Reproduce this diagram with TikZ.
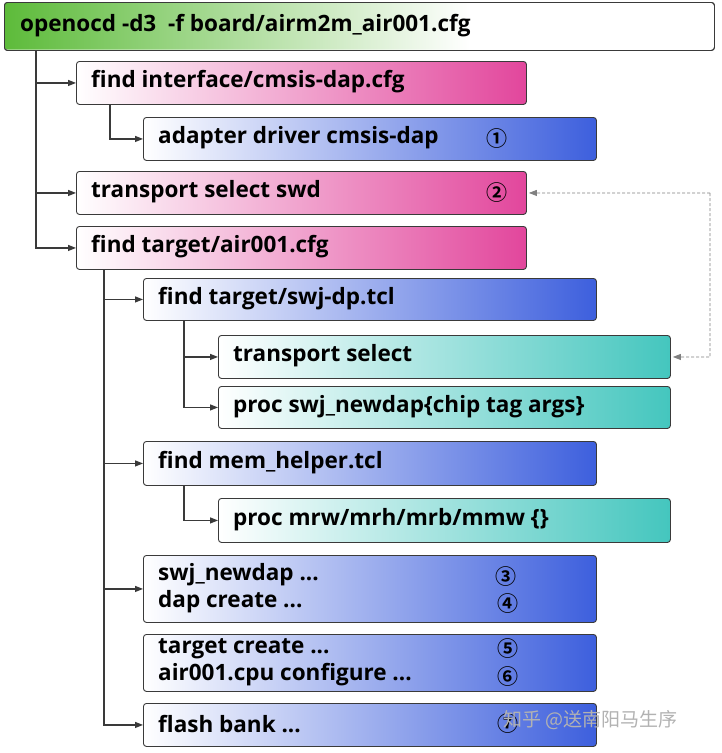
\documentclass[tikz,border=0pt]{standalone}
\usepackage{fontspec}
\setmainfont{Open Sans}
\newfontfamily\cjk{Noto Sans CJK SC}
\newfontfamily\circf{Noto Sans CJK SC Bold}
\usetikzlibrary{arrows.meta}
\definecolor{pinkc}{HTML}{E2469C}
\definecolor{bluec}{HTML}{3D5FDD}
\definecolor{tealc}{HTML}{44C6BE}
\definecolor{greenc}{HTML}{5DBB3A}
\definecolor{edge}{HTML}{3A3A3A}
\tikzset{
  box/.style={draw=edge,line width=0.9pt,rounded corners=3pt,inner sep=0pt,anchor=north west},
  pinkbox/.style={box,left color=white,right color=pinkc},
  bluebox/.style={box,left color=white,right color=bluec},
  tealbox/.style={box,left color=white,right color=tealc},
  lbl/.style={anchor=west,inner sep=0pt,font=\bfseries\fontsize{22.5}{27}\selectfont,align=left,text=black},
  num/.style={inner sep=0pt,font=\circf\fontsize{21}{22}\selectfont},
  conn/.style={draw=edge,line width=1.1pt,-{Triangle[length=8pt,width=6pt]}},
  dconn/.style={draw=gray,line width=0.8pt,dashed,dash pattern=on 3pt off 2pt,-{Triangle[length=8pt,width=6pt]}},
}
\newcommand\bx[7]{\node[#6,minimum width={(#4-#2)*1pt},minimum height={(#5-#3)*1pt}] (#1) at (#2,#3) {};
  \node[lbl] (#1t) at ([xshift=15pt,yshift=1pt]#1.west) {#7};}
\begin{document}
\begin{tikzpicture}[x=1pt,y=-1pt]
\useasboundingbox[fill=white] (0,0) rectangle (721,753);
% root
\node[box,fill=white,minimum width=710pt,minimum height=48pt] (root) at (4,2) {};
\shade[left color=greenc,right color=white,rounded corners=3pt] (4.5,2.5) rectangle (470,49.5);
\node[box,minimum width=710pt,minimum height=48pt] (rootb) at (4,2) {};
\node[lbl] (roott) at ([xshift=16pt,yshift=1pt]root.west) {openocd -d3\ \ -f board/airm2m\_air001.cfg};
\bx{b1}{76}{61}{526}{104}{pinkbox}{find interface/cmsis-dap.cfg}
\bx{b2}{143}{117}{596}{160}{bluebox}{adapter driver cmsis-dap}
\bx{b3}{76}{171}{526}{214}{pinkbox}{transport select swd}
\bx{b4}{76}{226}{526}{269}{pinkbox}{find target/air001.cfg}
\bx{b5}{143}{278}{596}{320}{bluebox}{find target/swj-dp.tcl}
\bx{b6}{218}{335}{670}{378}{tealbox}{transport select}
\bx{b7}{218}{386}{670}{428}{tealbox}{proc swj\_newdap\{chip tag args\}}
\bx{b8}{143}{441}{596}{485}{bluebox}{find mem\_helper.tcl}
\bx{b9}{218}{498}{670}{542}{tealbox}{proc mrw/mrh/mrb/mmw \{\}}
\bx{b10}{143}{555}{596}{622}{bluebox}{swj\_newdap ...\\dap create ...}
\bx{b11}{143}{634}{596}{691}{bluebox}{target create ...\\air001.cpu configure ...}
\bx{b12}{143}{703}{596}{746}{bluebox}{flash bank ...}
\node[num] (n1) at (497,139) {①};
\node[num] (n2) at (497,193) {②};
\node[num] (n3) at (506,577) {③};
\node[num] (n4) at (508,604) {④};
\node[num] (n5) at (508,649) {⑤};
\node[num] (n6) at (508,677) {⑥};
\node[num] (n7) at (508,724) {⑦};
\node[anchor=west,inner sep=0pt,text=gray!60,font=\cjk\fontsize{19}{22}\selectfont] (wm) at (503,720) {知乎 @送南阳马生序};
% connectors
\coordinate (r0) at (36,50);
\draw[conn] (r0) |- (b1.west);
\draw[conn] (r0) |- (b3.west);
\draw[conn] (r0) |- (b4.west);
\coordinate (a0) at (110,104);
\draw[conn] (a0) |- (b2.west);
\coordinate (t0) at (104,269);
\draw[conn] (t0) |- (b5.west);
\draw[conn] (t0) |- (b8.west);
\draw[conn] (t0) |- (b10.west);
\draw[conn] (t0) |- (b12.west);
\coordinate (s0) at (184,320);
\draw[conn] (s0) |- (b6.west);
\draw[conn] (s0) |- (b7.west);
\coordinate (m0) at (184,485);
\draw[conn] (m0) |- (b9.west);
\coordinate (d1) at (710,193);
\coordinate (d2) at (710,357);
\draw[dconn] (d1) -- ([xshift=2pt]b3.east);
\draw[dconn] (d1) -- (d2) -- ([xshift=2pt]b6.east);
\end{tikzpicture}
\end{document}
